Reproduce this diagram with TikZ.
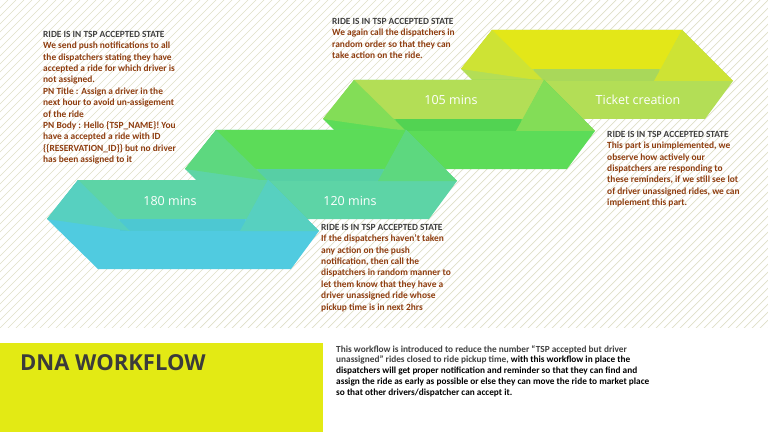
\documentclass[tikz,border=0pt]{standalone}
\usepackage{fontspec}
\setmainfont{Carlito}
\newfontfamily\osans{Open Sans}
\definecolor{cyanb}{HTML}{50CBE0}
\definecolor{tealb}{HTML}{5DD4A6}
\definecolor{greenb}{HTML}{5CDC58}
\definecolor{limeb}{HTML}{B3DE56}
\definecolor{yellowb}{HTML}{E3E718}
\definecolor{stripD}{HTML}{A9D85A}
\definecolor{stripC}{HTML}{52D352}
\definecolor{stripB}{HTML}{57CFA5}
\definecolor{stripA}{HTML}{4DC8D2}
\definecolor{boxy}{HTML}{E3EA14}
\definecolor{hatchc}{HTML}{E0E0C8}
\definecolor{hdr}{HTML}{404040}
\definecolor{rust}{HTML}{8E3C0E}
\definecolor{titlec}{HTML}{3B3B3B}
\tikzset{
  blocktext/.style={anchor=north west, inner sep=0pt, align=left, text=rust,
    font=\bfseries\fontsize{9.4}{11.4}\selectfont},
  paratext/.style={anchor=north west, inner sep=0pt, align=left, text=black,
    font=\bfseries\fontsize{9.3}{10.9}\selectfont},
  bandlabel/.style={text=white, inner sep=0pt, font=\osans\fontsize{12.5}{14}\selectfont},
}
\newcommand\ribbon[6]{%
  \begin{scope}[shift={(#1,#2)}]
    \fill[#4] (0,0) -- (31,-39) -- (221,-39) -- (272,12) -- (244,50) -- (51,50) -- cycle;
    \fill[#3] (31,-39) -- (221,-39) -- (200,0) -- (0,0) -- cycle;
    \fill[#5] (73,0) rectangle (198,12);
    \fill[#6] (221,-39) -- (272,12) -- (193,12) -- cycle;
    \fill[#6] (31,-39) -- (0,0) -- (83,12) -- cycle;
  \end{scope}}
\begin{document}
\begin{tikzpicture}[x=1pt,y=-1pt]
\useasboundingbox (0,0) rectangle (768,433);
\fill[white] (0,0) rectangle (768,433);
% hatching
\begin{scope}
  \clip (0,0) rectangle (768,327);
  \foreach \c in {0,8,...,1104} \draw[hatchc, line width=0.7pt] (\c,0) -- (\c-330,330);
\end{scope}
% ribbons (back to front)
\ribbon{461}{69}{yellowb}{limeb}{stripD}{yellowb!55!limeb}
\ribbon{323}{119}{limeb}{greenb}{stripC}{limeb!45!greenb}
\ribbon{185}{169}{greenb}{tealb}{stripB}{greenb!50!tealb}
\ribbon{47}{219}{tealb}{cyanb}{stripA}{tealb!55!cyanb}
% labels
\node[bandlabel] (l180) at (170,201) {180 mins};
\node[bandlabel] (l120) at (350,201) {120 mins};
\node[bandlabel] (l105) at (451,100) {105 mins};
\node[bandlabel] (ltc) at (638,100) {Ticket creation};
% text blocks
\node[blocktext] (b1) at (43,31) {\textcolor{hdr}{RIDE IS IN TSP ACCEPTED STATE}\\
We send push notifications to all\\
the dispatchers stating they have\\
accepted a ride for which driver is\\
not assigned.\\
PN Title : Assign a driver in the\\
next hour to avoid un-assigement\\
of the ride\\
PN Body : Hello \{TSP\_NAME\}! You\\
have a accepted a ride with ID\\
\{\{RESERVATION\_ID\}\} but no driver\\
has been assigned to it};
\node[blocktext] (b2) at (332,18) {\textcolor{hdr}{RIDE IS IN TSP ACCEPTED STATE}\\
We again call the dispatchers in\\
random order so that they can\\
take action on the ride.};
\node[blocktext] (b3) at (607,131) {\textcolor{hdr}{RIDE IS IN TSP ACCEPTED STATE}\\
This part is unimplemented, we\\
observe how actively our\\
dispatchers are responding to\\
these reminders, if we still see lot\\
of driver unassigned rides, we can\\
implement this part.};
\node[blocktext] (b4) at (321,224) {\textcolor{hdr}{RIDE IS IN TSP ACCEPTED STATE}\\
If the dispatchers haven’t taken\\
any action on the push\\
notification, then call the\\
dispatchers in random manner to\\
let them know that they have a\\
driver unassigned ride whose\\
pickup time is in next 2hrs};
% bottom
\fill[boxy] (0,343) rectangle (323,432);
\node[anchor=base west, inner sep=0pt, text=titlec, font=\osans\bfseries\fontsize{22}{26}\selectfont] (title) at (20,370) {DNA WORKFLOW};
\node[paratext] (para) at (336,345) {\textcolor{hdr}{This workflow is introduced to reduce the number “TSP accepted but driver}\\
\textcolor{hdr}{unassigned” rides closed to ride pickup time,} with this workflow in place the\\
dispatchers will get proper notification and reminder so that they can find and\\
assign the ride as early as possible or else they can move the ride to market place\\
so that other drivers/dispatcher can accept it.};
\end{tikzpicture}
\end{document}
